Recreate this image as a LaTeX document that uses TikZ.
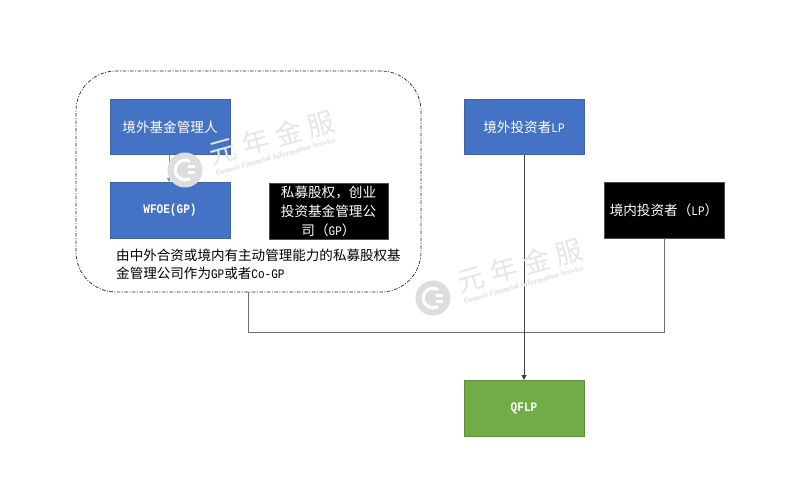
\documentclass[tikz,border=0pt]{standalone}
\usepackage{fontspec}
\setmainfont{Noto Sans CJK SC}
\newfontfamily\latfont[FakeStretch=0.85]{Liberation Mono}
\newfontfamily\wmfont{Liberation Serif}
\newcommand{\lat}[1]{{\fontsize{13}{16}\selectfont\latfont #1}}
\newcommand{\fwcomma}{\char"FF0C\relax}
\newcommand{\fwopen}{\char"FF08\relax}
\newcommand{\fwclose}{\char"FF09\relax}
\usetikzlibrary{arrows.meta}
\definecolor{bluefill}{HTML}{4472C4}
\definecolor{blueedge}{HTML}{41649F}
\definecolor{greenfill}{HTML}{70AD47}
\definecolor{greenedge}{HTML}{5F8F3E}
\definecolor{linkgray}{HTML}{6E6E6E}
\definecolor{linkblue}{HTML}{5B9BD5}
\definecolor{wm}{HTML}{DDDDDD}
\definecolor{wmlight}{HTML}{E6E6E6}
\tikzset{
  x=1pt,y=-1pt,
  base/.style={minimum width=119.5pt,minimum height=55.5pt,inner sep=0pt,align=center,text=white,font=\fontsize{13.6}{19}\selectfont},
  bluebox/.style={base,fill=bluefill,draw=blueedge,line width=.5pt},
  greenbox/.style={base,fill=greenfill,draw=greenedge,line width=.5pt},
  blackbox/.style={base,fill=black,draw=black!70,line width=.5pt},
  group/.style={draw=black!85,line width=.7pt,dash pattern=on 3.5pt off 1.5pt on 1pt off 1.5pt,rounded corners=40pt,minimum width=345pt,minimum height=221pt,inner sep=0pt},
  link/.style={draw=linkgray,line width=.9pt},
  arrowlink/.style={draw=black!75,line width=.9pt,-{Triangle[length=5pt,width=5pt]}},
  wmtitle/.style={text=wmlight,inner sep=0pt,rotate=15.5,font=\fontsize{27}{27}\selectfont},
  wmsub/.style={text=wm,inner sep=0pt,rotate=15.5,font=\fontsize{7.6}{8}\selectfont\wmfont\bfseries},
}
\newcommand{\wmark}[3]{%
  \begin{scope}[shift={(#1,#2)}]
    \fill[wm] (0,0) circle[radius=17.5];
    \draw[white,line width=3pt] (5,-8.5) arc[start angle=-60,end angle=-300,radius=9.8];
    \fill[white] (3,-4.5) rectangle (10,-1.5);
    \fill[white] (3,1.5) rectangle (10,4.5);
    \node[wmtitle] (#3t) at (87,-32.5) {元\hspace{7pt}年\hspace{7pt}金\hspace{7pt}服};
    \node[wmsub] (#3s) at (90.5,-13.5) {Genesis Financial Information Service};
  \end{scope}}
\begin{document}
\begin{tikzpicture}
\useasboundingbox (0,0) rectangle (800,497);
\fill[white] (0,0) rectangle (800,497);
\node[group] (grp) at (248.5,181.5) {};
\node[bluebox] (mgr) at (170,127) {境外基金管理人};
\node[bluebox] (wfoe) at (170,210) {\lat{\bfseries WFOE(GP)}};
\node[blackbox] (pe) at (328.5,211) {私募股权\fwcomma 创业\\投资基金管理公\\司\fwopen\lat{GP}\fwclose};
\node[bluebox] (olp) at (524,127) {境外投资者\lat{LP}};
\node[blackbox] (dlp) at (664,210) {境内投资者\fwopen\lat{LP}\fwclose};
\node[greenbox] (qflp) at (524,408) {\lat{\bfseries QFLP}};
\node[anchor=north west,inner sep=0pt,align=left,font=\fontsize{13.55}{18}\selectfont] (note) at (116,249) {由中外合资或境内有主动管理能力的私募股权基\\金管理公司作为\lat{GP}或者\lat{Co-GP}};
\coordinate (jl) at (grp.south |- 0,332);
\coordinate (jr) at (dlp.south |- 0,332);
\draw[link] (grp.south) -- (jl) -- (jr) -- (dlp.south);
\draw[arrowlink] (olp.south) -- (qflp.north);
\coordinate (mgrout) at (169,155);
\coordinate (wfoein) at (169,182);
\draw[draw=linkblue,line width=.7pt,-{Triangle[length=4pt,width=4pt]}] (mgrout) -- (wfoein);
\wmark{185}{170}{wa}
\wmark{433}{298}{wb}
\end{tikzpicture}
\end{document}
